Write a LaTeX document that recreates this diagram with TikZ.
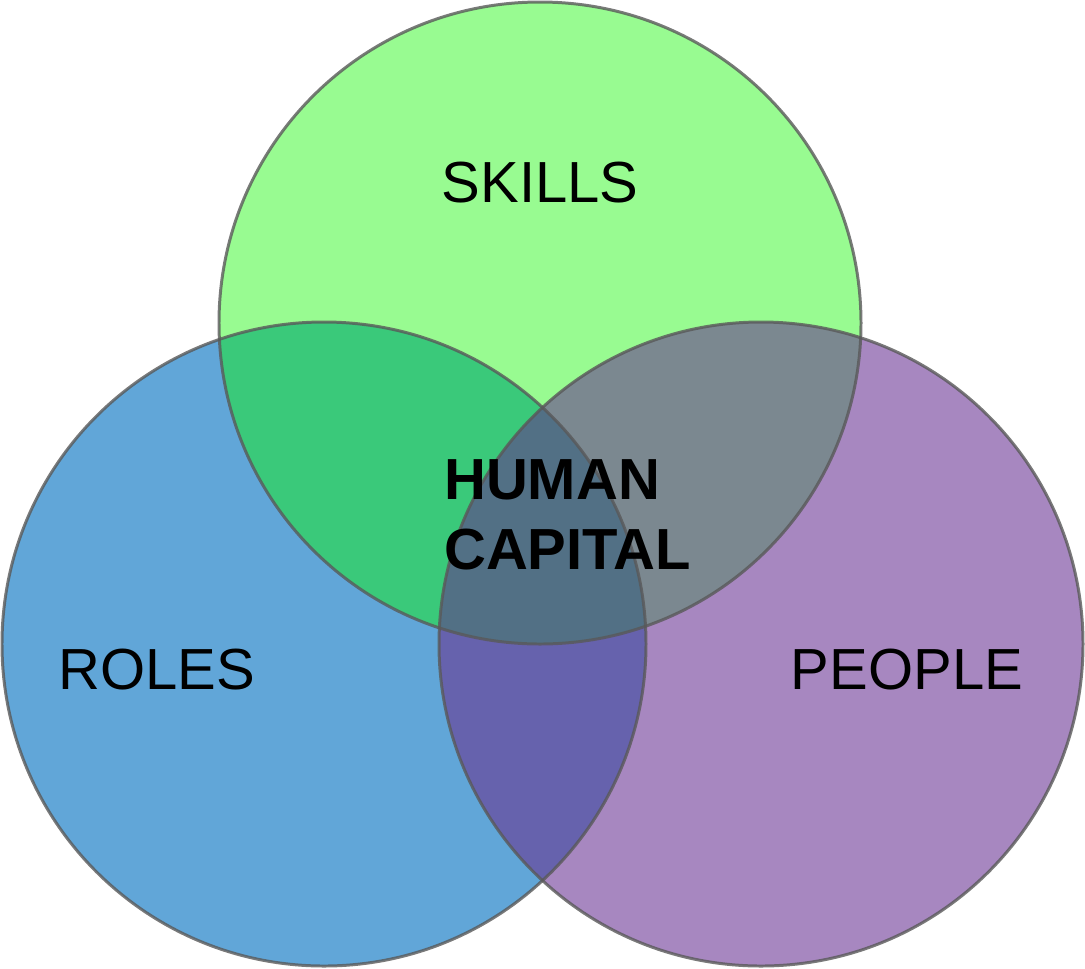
\documentclass[tikz,border=0pt]{standalone}
\usepackage{fontspec}
\setmainfont{Liberation Sans}
\begin{document}
\begin{tikzpicture}[x=0.02cm,y=-0.02cm,
  ring/.style={draw=black!65,line width=1.7pt,draw opacity=0.8},
  lbl/.style={font=\fontsize{33}{40}\selectfont,text=black}]
\useasboundingbox (0,0) rectangle (1085,968);
\def\G{(540,323) circle (321)}
\def\B{(324,644) circle (322)}
\def\P{(761,644) circle (322)}
\fill[color={rgb,255:red,152;green,251;blue,145}] \G;
\fill[color={rgb,255:red,97;green,166;blue,216}] \B;
\fill[color={rgb,255:red,167;green,135;blue,192}] \P;
\begin{scope}\clip \G; \fill[color={rgb,255:red,58;green,201;blue,122}] \B; \end{scope}
\begin{scope}\clip \G; \fill[color={rgb,255:red,123;green,136;blue,144}] \P; \end{scope}
\begin{scope}\clip \B; \fill[color={rgb,255:red,102;green,98;blue,173}] \P; \end{scope}
\begin{scope}\clip \G; \clip \B; \fill[color={rgb,255:red,82;green,112;blue,133}] \P; \end{scope}
\draw[ring] \G; \draw[ring] \B; \draw[ring] \P;
\node[lbl] (skills) at (540,183) {SKILLS};
\node[lbl] (roles) at (157,670) {ROLES};
\node[lbl] (people) at (907,670) {PEOPLE};
\node[lbl,font=\fontsize{33}{40}\selectfont\bfseries,align=left,anchor=west] (hc) at (438,515) {HUMAN\\CAPITAL};
\end{tikzpicture}
\end{document}
